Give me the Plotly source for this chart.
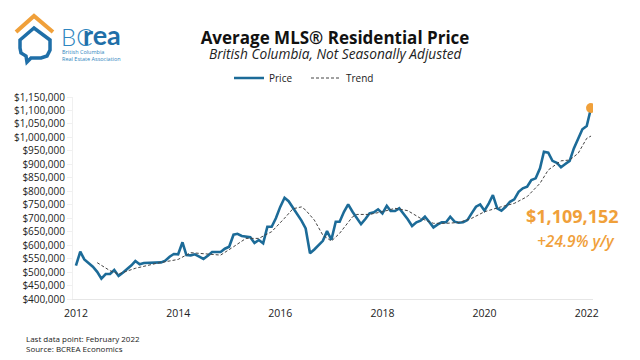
import pandas as pd
import plotly.graph_objects as go

# ---- data ----
price = [523600, 575600, 547000, 532500, 520000, 501000, 475500, 492800, 492800, 507600, 485400, 497800,
         510000, 525000, 541000, 528800, 533600, 533600, 533600, 534800, 536000, 542000, 557000, 567000,
         566000, 610500, 563000, 562000, 566000, 557000, 548500, 560800, 574500, 574500, 574500, 586800,
         594000, 638700, 642000, 633900, 631000, 629000, 607900, 619000, 606600, 668000, 668000, 700000,
         742000, 776000, 763000, 740000, 715000, 691000, 662000, 570000, 584000, 600000, 616000, 652000,
         620000, 687000, 687000, 724000, 751500, 724000, 699500, 678000, 697000, 718000, 722000, 733000,
         718000, 746000, 726600, 726600, 736700, 718000, 696000, 671000, 684700, 690700, 705500, 687000,
         666000, 677000, 684700, 684700, 705500, 687000, 683000, 685000, 693000, 718000, 742600, 751000,
         727800, 755000, 786000, 736700, 728000, 742600, 761000, 770000, 798000, 811000, 817000, 841700,
         848000, 885000, 946800, 943000, 913000, 906000, 889000, 901000, 913000, 959000, 993000, 1030000,
         1042000, 1109152]
price_dates = pd.date_range("2012-01-01", periods=len(price), freq="MS")

trend_dates = ["2012-06-01", "2012-09-01", "2012-11-01", "2013-03-01", "2013-08-01", "2014-01-01",
               "2014-04-01", "2014-07-01", "2014-11-01", "2015-02-01", "2015-05-01", "2015-08-01",
               "2015-11-01", "2016-02-01", "2016-04-01", "2016-06-01", "2016-07-01", "2016-09-01",
               "2016-11-01", "2017-01-01", "2017-03-01", "2017-06-01", "2017-07-01", "2017-10-01",
               "2018-01-01", "2018-04-01", "2018-07-01", "2018-10-01", "2019-01-01", "2019-04-01",
               "2019-07-01", "2019-10-01", "2020-01-01", "2020-05-01", "2020-08-01", "2020-11-01",
               "2021-02-01", "2021-04-01", "2021-07-01", "2021-09-01", "2021-11-01", "2022-01-01",
               "2022-02-01"]
trend = [534800, 505000, 493000, 514000, 532500, 547000, 572000, 567000, 563000, 594000, 625000, 625000,
         650000, 700000, 735000, 742000, 730000, 693000, 637000, 615000, 644000, 705000, 714000, 714000,
         724000, 736700, 728000, 699500, 681000, 681000, 684000, 699500, 724000, 742600, 755000, 780000,
         829500, 879000, 913000, 916000, 941000, 996500, 1005000]

y_ticks = list(range(400000, 1150001, 50000))
x_ticks = ["2012-01-01", "2014-01-01", "2016-01-01", "2018-01-01", "2020-01-01", "2022-01-01"]
x_tick_labels = ["2012", "2014", "2016", "2018", "2020", "2022"]

BLUE = "#1c6b98"
ORANGE = "#f0a03a"
TEXT = "#222222"
FONT = "Open Sans"

# page offset (default body margin) and plot area in screen pixels
OFF = 8
FW, FH = 640 - OFF, 360 - OFF
L, R, T, B = 73, 593, 97, 299
W, H = R - L, B - T


def px(x):
    return (x - L) / W


def py(y):
    return (B - y) / H


fig = go.Figure()
fig.add_trace(go.Scatter(x=price_dates, y=price, mode="lines", name="Price",
                         line=dict(color=BLUE, width=2.6)))
fig.add_trace(go.Scatter(x=trend_dates, y=trend, mode="lines", name="Trend",
                         line=dict(color="#444444", width=1, dash="3px,2px")))
fig.add_trace(go.Scatter(x=[price_dates[-1]], y=[price[-1]], mode="markers", showlegend=False,
                         marker=dict(color=ORANGE, size=10)))

fig.update_layout(
    width=FW, height=FH,
    margin=dict(l=L - OFF, r=640 - R, t=T - OFF, b=360 - B, autoexpand=False),
    paper_bgcolor="white", plot_bgcolor="white",
    font=dict(family=FONT, color=TEXT),
    title=dict(text="<b>Average MLS® Residential Price</b>", x=(335 - OFF) / FW, xanchor="center",
               y=1 - (38 - OFF) / FH, yanchor="middle",
               font=dict(size=17, color="#111111", family=FONT)),
    showlegend=True,
    legend=dict(orientation="h", x=px(229), xanchor="left", y=py(78), yanchor="middle",
                font=dict(size=10, color=TEXT), itemwidth=30, entrywidth=32,
                entrywidthmode="pixels", bgcolor="rgba(0,0,0,0)"),
    xaxis=dict(type="date", range=["2011-12-11", "2022-02-15"], tickvals=x_ticks,
               ticktext=x_tick_labels, showgrid=False, showline=True, linecolor="#e6e6e6",
               linewidth=1, ticks="", ticklabelstandoff=4, tickfont=dict(size=10.5, color=TEXT),
               zeroline=False),
    yaxis=dict(range=[400000, 1150000], tickvals=y_ticks, tickformat="$,.0f", showgrid=False,
               showline=True, linecolor="#f0f0f0", ticks="outside", ticklen=5, tickcolor="#f0f0f0",
               tickfont=dict(size=10, color=TEXT), zeroline=False),
)

ann = []
ann.append(dict(text="<i>British Columbia, Not Seasonally Adjusted</i>", x=px(335), xref="paper",
                y=py(53), yref="paper", xanchor="center", yanchor="middle", showarrow=False,
                font=dict(size=13.7, color="#222222")))
ann.append(dict(text="<b>$1,109,152</b>", x=px(621), xref="paper", y=py(216), yref="paper",
                xanchor="right", yanchor="middle", showarrow=False,
                font=dict(size=18, color=ORANGE)))
ann.append(dict(text="<i>+24.9% y/y</i>", x=px(617), xref="paper", y=py(241), yref="paper",
                xanchor="right", yanchor="middle", showarrow=False,
                font=dict(size=15.5, color=ORANGE, weight=600)))
ann.append(dict(text="Last data point: February 2022<br>Source: BCREA Economics", x=px(24),
                xref="paper", y=py(343), yref="paper", xanchor="left", yanchor="middle",
                align="left", showarrow=False, font=dict(size=8, color=TEXT)))
# logo text
ann.append(dict(text="BC", x=px(59), xref="paper", y=py(37), yref="paper", xanchor="left",
                yanchor="middle", showarrow=False,
                font=dict(size=24, color="#2f86c0", family="Lato", weight=300)))
ann.append(dict(text="<b>rea</b>", x=px(81), xref="paper", y=py(35), yref="paper", xanchor="left",
                yanchor="middle", showarrow=False,
                font=dict(size=27, color="#1f6fa8", family="Lato")))
ann.append(dict(text="British Columbia<br>Real Estate Association", x=px(60), xref="paper",
                y=py(55), yref="paper", xanchor="left", yanchor="middle", align="left",
                showarrow=False, font=dict(size=5.5, color="#2f86c0")))
fig.update_layout(annotations=ann)


def path(points, close=False):
    s = "M " + " L ".join(f"{px(a):.4f},{py(b):.4f}" for a, b in points)
    return s + (" Z" if close else "")


# logo icon
fig.add_shape(type="path", xref="paper", yref="paper",
              path=path([(16, 32), (34, 16), (53, 32)]),
              line=dict(color="#f0a03a", width=4))
fig.add_shape(type="path", xref="paper", yref="paper",
              path=path([(20, 40), (34, 28), (50, 40), (50, 50), (47, 56), (41, 58), (31, 58),
                         (27, 62), (26, 56), (21, 53), (20, 48)], close=True),
              line=dict(color="#1f6fa8", width=3.5))

fig.write_html("out.html")
